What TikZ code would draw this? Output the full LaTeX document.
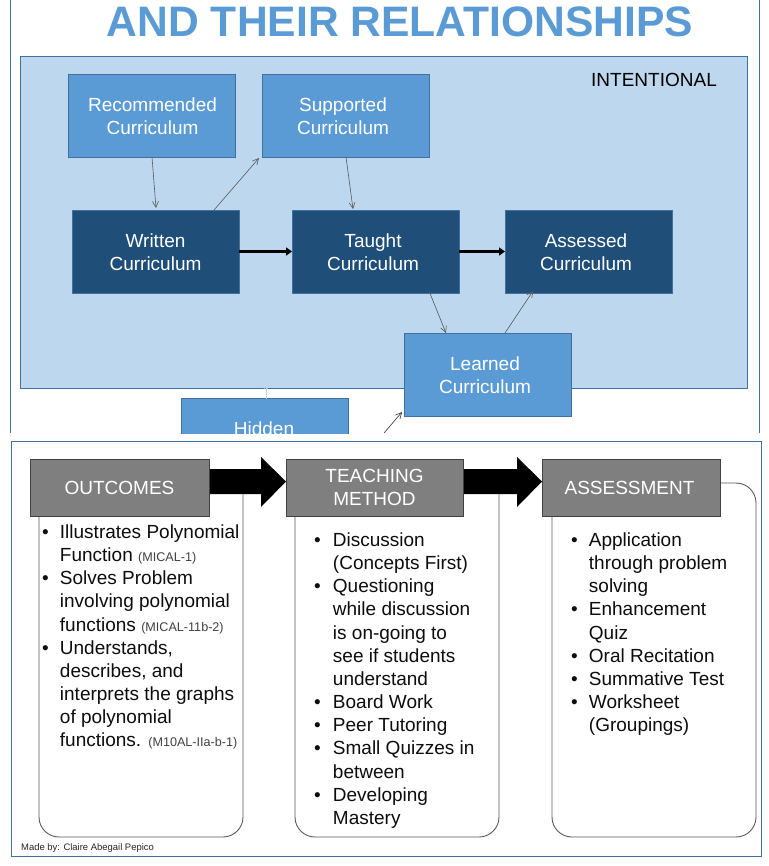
\documentclass[tikz,border=0pt]{standalone}
\usepackage{fontspec}
\setmainfont{Liberation Sans}
\usetikzlibrary{arrows.meta}
\definecolor{midblue}{HTML}{5B9BD5}
\definecolor{darkblue}{HTML}{1F4E79}
\definecolor{paleblue}{HTML}{BDD7EE}
\definecolor{edgeblue}{HTML}{41719C}
\definecolor{titleblue}{HTML}{5B9BD5}
\definecolor{headgray}{HTML}{7F7F7F}
\newcommand{\codetext}[1]{{\fontsize{12.6}{12.6}\selectfont\color[HTML]{404040}#1}}
\tikzset{
  lab/.style={text=white,align=center,inner sep=0pt,yshift=-1pt,font=\fontsize{19}{23}\selectfont},
  curbox/.style={draw=edgeblue,line width=0.7pt,fill=midblue,minimum width=167pt,minimum height=83pt,inner sep=0pt,outer sep=0pt},
  darkbox/.style={curbox,fill=darkblue,draw=edgeblue},
  headbox/.style={draw=black!75,line width=0.9pt,fill=headgray,text=white,minimum height=57pt,align=center,inner sep=0pt,outer sep=0pt,font=\fontsize{19}{23}\selectfont},
  bodybox/.style={draw=black!65,line width=0.9pt,rounded corners=20pt,minimum width=204pt,inner sep=0pt,outer sep=0pt},
  thinarrow/.style={draw=black!65,line width=0.6pt,-{Straight Barb[length=6pt,width=6pt]}},
  thickarrow/.style={draw=black,line width=2.2pt,-{Triangle[length=6pt,width=8pt]}},
  bigarrow/.style={fill=black,draw=none},
  listtext/.style={anchor=base west,inner sep=0pt,outer sep=0pt,text=black!95,font=\fontsize{19}{23.15}\selectfont},
}
\begin{document}
\begin{tikzpicture}[x=1pt,y=-1pt]
\useasboundingbox (0,0) rectangle (768,866);
\fill[white] (0,0) rectangle (768,866);
% upper slide
\begin{scope}
\clip (0,0) rectangle (768,433);
\draw[edgeblue,line width=0.7pt] (10,-2) -- (10,433);
\draw[edgeblue,line width=0.7pt] (759,-2) -- (759,433);
\node[text=titleblue,font=\fontsize{42.6}{43}\bfseries] (title) at (400,22) {AND THEIR RELATIONSHIPS};
\node[draw=edgeblue,line width=0.7pt,fill=paleblue,minimum width=727pt,minimum height=332pt,inner sep=0pt,outer sep=0pt] (panel) at (383.5,222) {};
\node[font=\fontsize{19}{23}\selectfont,text=black,inner sep=0pt] (intent) at (654,79.5) {INTENTIONAL};
\node[curbox,label={[lab,xshift=1pt]center:Recommended\\Curriculum}] (rec) at (151.5,115.5) {};
\node[curbox,label={[lab,xshift=-2.5pt]center:Supported\\Curriculum}] (sup) at (345.5,115.5) {};
\node[darkbox,label={[lab]center:Written\\Curriculum}] (wri) at (155.5,251.5) {};
\node[darkbox,label={[lab,xshift=-2.5pt]center:Taught\\Curriculum}] (tau) at (375.5,251.5) {};
\node[darkbox,label={[lab,xshift=-2.5pt]center:Assessed\\Curriculum}] (ass) at (588.5,251.5) {};
\node[curbox,label={[lab,xshift=-2.5pt]center:Learned\\Curriculum}] (lea) at (487.5,374.5) {};
\node[curbox,label={[lab,xshift=-0.5pt]center:Hidden\\Curriculum}] (hid) at (264.5,439.5) {};
\coordinate (free) at (384,433);
\draw[thinarrow] ([xshift=0.5pt]rec.south) -- ([xshift=0.5pt,yshift=2pt]wri.north);
\draw[thinarrow] ([xshift=58.5pt]wri.north) -- ([xshift=-86.5pt,yshift=-1pt]sup.south);
\draw[thinarrow] ([xshift=0.5pt]sup.south) -- ([xshift=-22.5pt,yshift=1pt]tau.north);
\draw[thickarrow] (wri.east) -- (tau.west);
\draw[thickarrow] (tau.east) -- (ass.west);
\draw[thinarrow] ([xshift=53.5pt,yshift=2pt]tau.south) -- ([xshift=-41.5pt]lea.north);
\draw[thinarrow] ([xshift=17.5pt]lea.north) -- ([xshift=-55.5pt,yshift=2pt]ass.south);
\draw[draw=midblue!45,line width=0.4pt,-{Straight Barb[length=3pt,width=4pt]}] ([xshift=1.5pt,yshift=-1pt]hid.north) -- ([xshift=1.5pt,yshift=2pt]panel.south -| hid.north);
\draw[thinarrow,draw=black!80] (free) -- ([xshift=-2pt,yshift=4pt]lea.south west);
\end{scope}
% lower slide
\node[draw=edgeblue,line width=0.7pt,minimum width=750pt,minimum height=415pt,inner sep=0pt,outer sep=0pt] (lower) at (386,648.5) {};
\node[bodybox,minimum height=366pt] (body1) at (141,654) {};
\node[bodybox,minimum height=366pt] (body2) at (397,654) {};
\node[bodybox,minimum height=354pt] (body3) at (654,660) {};
\fill[bigarrow] (209,469) -- (261,469) -- (261,457) -- (286,481.5) -- (261,507) -- (261,494) -- (209,494) -- cycle;
\fill[bigarrow] (463,469) -- (517,469) -- (517,457) -- (542,481.5) -- (517,507) -- (517,494) -- (463,494) -- cycle;
\node[headbox,minimum width=179pt] (out) at (119.5,487.5) {OUTCOMES};
\node[headbox,minimum width=177pt] (tea) at (374.5,487.5) {TEACHING\\METHOD};
\node[headbox,minimum width=178pt] (asm) at (631,487.5) {\hspace*{-3pt}ASSESSMENT};
\node[listtext] (list1) at (42,538.5) {\begin{tabular}[t]{@{}l@{\hspace{11.3pt}}l@{}}
•&Illustrates Polynomial\\
&Function \codetext{(MICAL-1)}\\
•&Solves Problem\\
&involving polynomial\\
&functions \codetext{(MICAL-11b-2)}\\
•&Understands,\\
&describes, and\\
&interprets the graphs\\
&of polynomial\\
&functions. \codetext{(M10AL-IIa-b-1)}
\end{tabular}};
\node[listtext] (list2) at (314,546.5) {\begin{tabular}[t]{@{}l@{\hspace{12.3pt}}l@{}}
•&Discussion\\
&(Concepts First)\\
•&Questioning\\
&while discussion\\
&is on-going to\\
&see if students\\
&understand\\
•&Board Work\\
•&Peer Tutoring\\
•&Small Quizzes in\\
&between\\
•&Developing\\
&Mastery
\end{tabular}};
\node[listtext] (list3) at (571,546.5) {\begin{tabular}[t]{@{}l@{\hspace{11.3pt}}l@{}}
•&Application\\
&through problem\\
&solving\\
•&Enhancement\\
&Quiz\\
•&Oral Recitation\\
•&Summative Test\\
•&Worksheet\\
&(Groupings)
\end{tabular}};
\node[anchor=base west,inner sep=0pt,font=\fontsize{9.45}{11}\selectfont,text=black!85] (made) at (21,850.5) {Made by: Claire Abegail Pepico};
\end{tikzpicture}
\end{document}
